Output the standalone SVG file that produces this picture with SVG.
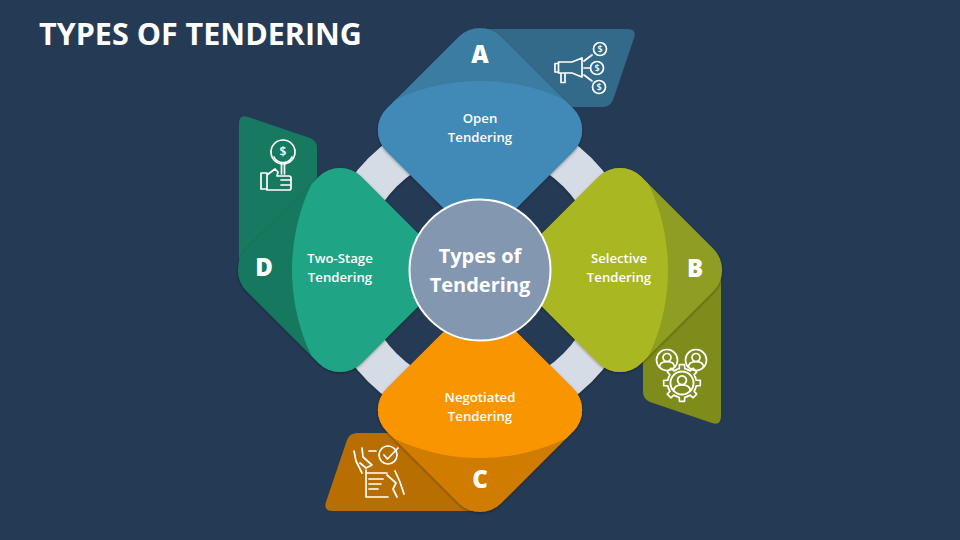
<svg xmlns="http://www.w3.org/2000/svg" xmlns:xlink="http://www.w3.org/1999/xlink" width="960" height="540" viewBox="0 0 960 540">
<style>
text{font-family:"Open Sans","Noto Sans","Liberation Sans",sans-serif;fill:#fff;text-anchor:middle}
.t{font-size:13.2px;font-weight:600}
.l{font-size:24px;font-weight:800}
.c{font-size:20px;font-weight:700}
.d{font-size:9px;font-weight:600}
.i{fill:none;stroke:#fff;stroke-width:1.7;stroke-linecap:round;stroke-linejoin:round}
.sh{filter:url(#s)}
</style>
<defs>
<filter id="s" x="-20%" y="-20%" width="140%" height="140%"><feDropShadow dx="0" dy="1" stdDeviation="1.500" flood-color="#000" flood-opacity=".4"/></filter>
<rect id="dia" x="-81" y="-81" width="162" height="162" rx="30" transform="rotate(45)"/>
<clipPath id="ca"><use xlink:href="#dia" transform="translate(480,130)"/></clipPath>
<clipPath id="cb"><use xlink:href="#dia" transform="translate(620,270)"/></clipPath>
<clipPath id="cc"><use xlink:href="#dia" transform="translate(480,410)"/></clipPath>
<clipPath id="cd"><use xlink:href="#dia" transform="translate(340,270)"/></clipPath>
<path id="tooth" class="i" d="M-5.55-13.4A14.5 14.5 0 0 1-2.77-14.23L-2.57-18.32H2.57L2.77-14.23A14.5 14.5 0 0 1 5.55-13.4"/>
<g id="person" class="i"><circle r="10.500"/><circle cy="-2.500" r="4"/><path d="M-7.500 7C-7.300 3-4 1.700 0 1.700S7.300 3 7.500 7"/></g>
</defs>
<rect width="960" height="540" fill="#253b55"/>
<text x="39" y="45" style="text-anchor:start;font-size:30.500px;font-weight:700">TYPES OF TENDERING</text>
<g id="connectors"><circle class="sh" cx="480" cy="270" r="138" fill="none" stroke="#d6dce5" stroke-width="40"/></g>
<g id="node-a">
<path d="M480 29H627Q637 29 634 38L613 100Q610 107 603 107H480Z" fill="#336a8a"/>
<use xlink:href="#dia" class="sh" transform="translate(480,130)" fill="#3a7ba3"/>
<circle cx="480" cy="281" r="200" fill="#418ab7" clip-path="url(#ca)"/>
<text class="l" x="480" y="63">A</text>
<text class="t" x="480" y="123">Open</text><text class="t" x="480" y="142">Tendering</text>
<path class="i" d="M555 63.500H558.500V72H555ZM558.500 62H572L582 58V77L572 73H558.500ZM561 73V82.500H565V73M584 61L592 55M584 68H590M584 75L592 81"/>
<circle class="i" cx="600" cy="49" r="6.500"/><circle class="i" cx="597" cy="68" r="6.500"/><circle class="i" cx="599" cy="87" r="6.500"/>
<text class="d" x="600" y="52.200">$</text><text class="d" x="597" y="71.200">$</text><text class="d" x="599" y="90.200">$</text>
</g>
<g id="node-b">
<path d="M721 270V416Q721 426 712 423L650 402Q643 399 643 392V270Z" fill="#7f8b1b"/>
<use xlink:href="#dia" class="sh" transform="translate(620,270)" fill="#8f9e20"/>
<circle cx="468" cy="270" r="200" fill="#a9b723" clip-path="url(#cb)"/>
<text class="l" x="695" y="277">B</text>
<text class="t" x="619" y="263">Selective</text><text class="t" x="619" y="282">Tendering</text>
<use xlink:href="#person" transform="translate(667,360)"/>
<use xlink:href="#person" transform="translate(696,360)"/>
<g transform="translate(682,383)">
<use xlink:href="#person" transform="scale(1.1)"/>
<use xlink:href="#tooth" transform="rotate(0)"/><use xlink:href="#tooth" transform="rotate(45)"/><use xlink:href="#tooth" transform="rotate(90)"/><use xlink:href="#tooth" transform="rotate(135)"/><use xlink:href="#tooth" transform="rotate(180)"/><use xlink:href="#tooth" transform="rotate(225)"/><use xlink:href="#tooth" transform="rotate(270)"/><use xlink:href="#tooth" transform="rotate(315)"/>
</g>
</g>
<g id="node-c">
<path d="M480 511H333Q323 511 326 502L347 440Q350 433 357 433H480Z" fill="#b86e00"/>
<use xlink:href="#dia" class="sh" transform="translate(480,410)" fill="#cf7b00"/>
<circle cx="480" cy="258" r="200" fill="#f99500" clip-path="url(#cc)"/>
<text class="l" x="480" y="488">C</text>
<text class="t" x="480" y="402">Negotiated</text><text class="t" x="480" y="421">Tendering</text>
<circle class="i" cx="388" cy="455" r="9"/>
<path class="i" d="M384 455L387.500 459L398 448M369 451H376M366 470V497H388M366 473H387M369 479H383M369 484H381M369 489H378M354 451L356 461L362 473M362 448L363 457L372 465L366 468L360 463M395 471L400 482L404 494M387 475L396 483L393 489L397 497"/>
</g>
<g id="node-d">
<path d="M239 270V124Q239 114 248 117L310 138Q317 141 317 148V270Z" fill="#177a60"/>
<use xlink:href="#dia" class="sh" transform="translate(340,270)" fill="#17785f"/>
<circle cx="492" cy="270" r="200" fill="#1fa585" clip-path="url(#cd)"/>
<text class="l" x="264" y="276">D</text>
<text class="t" x="340" y="263">Two-Stage</text><text class="t" x="340" y="282">Tendering</text>
<circle class="i" cx="283" cy="152" r="12"/>
<path class="i" d="M274 157A10 10 0 0 0 292 157M281.500 164V174M284.500 164V174M261 173H267V189H261ZM267 175L275 169L278 172L277 176H289Q291 176 291 178V188Q291 190 289 190H267M281 180H291M281 185H291"/>
<text class="d" x="283" y="156" style="font-size:12px">$</text>
</g>
<g id="center">
<circle cx="480" cy="270" r="70.500" fill="#8497b0" stroke="#fff" stroke-width="2"/>
<text class="c" x="480" y="263">Types of</text><text class="c" x="480" y="292">Tendering</text>
</g>
</svg>
